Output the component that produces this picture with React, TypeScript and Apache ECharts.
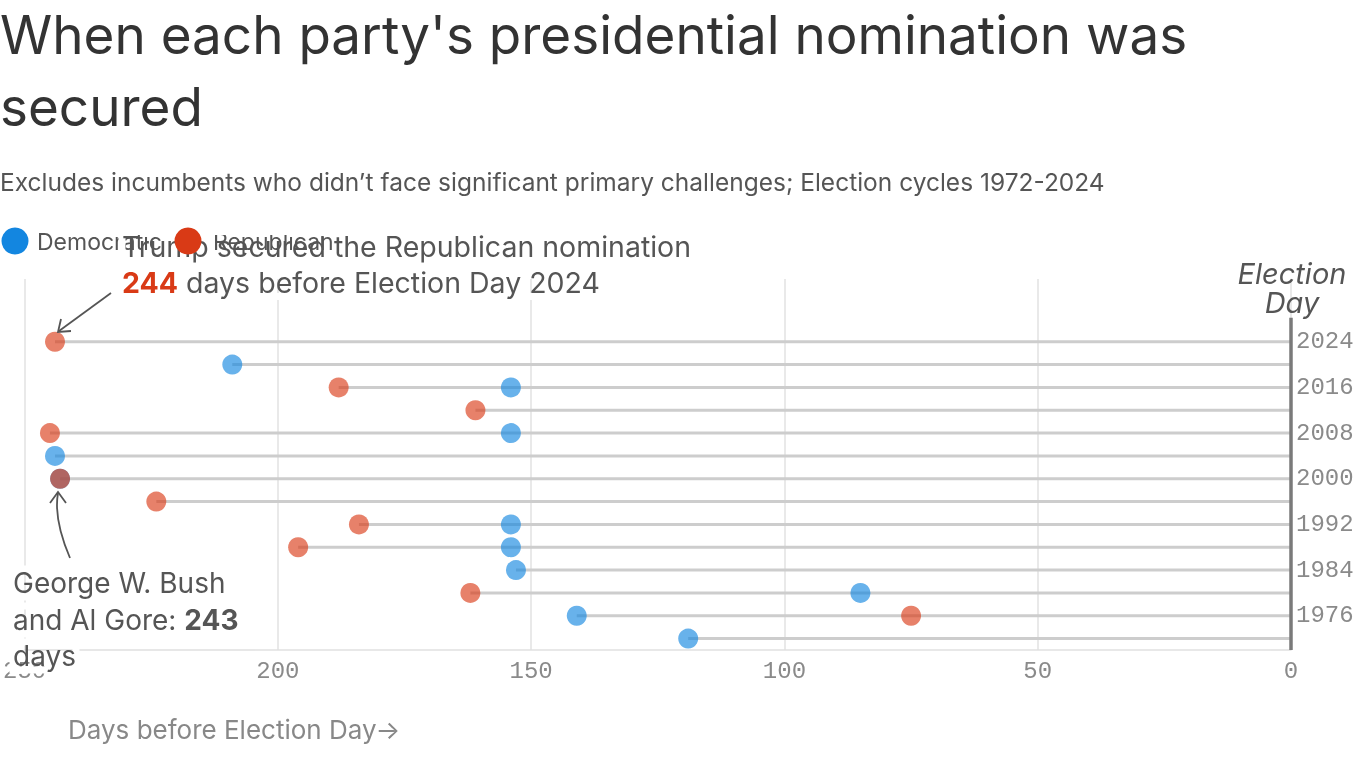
import React, { useEffect, useRef } from "react";
import * as echarts from "echarts";

const years = [2024, 2020, 2016, 2012, 2008, 2004, 2000, 1996, 1992, 1988, 1984, 1980, 1976, 1972];
const demDays: (number | null)[] = [null, 209, 154, null, 154, 244, 243, null, 154, 154, 153, 85, 141, 119];
const repDays: (number | null)[] = [244, null, 188, 161, 245, null, 243, 224, 184, 196, null, 162, 75, null];
const yLabelYears = [1976, 1984, 1992, 2000, 2008, 2016, 2024];
const electionDayLine = [[0, 1970, 2028.2]];

const SANS = "Inter, 'Noto Sans', sans-serif";
const MONO = "'Liberation Mono', 'DejaVu Sans Mono', monospace";
const DEM = "#1386e0";
const REP = "#d93a16";

export default function App() {
  const ref = useRef<HTMLDivElement>(null);
  useEffect(() => {
    if (!ref.current) return;
    const chart = echarts.init(ref.current, null, { renderer: "svg" });

    const rowData = years.map((y, i) => [Math.max(demDays[i] ?? 0, repDays[i] ?? 0), y]);
    const demData = years.map((y, i) => (demDays[i] != null ? [demDays[i], y] : null)).filter(Boolean);
    const repData = years.map((y, i) => (repDays[i] != null ? [repDays[i], y] : null)).filter(Boolean);

    const halo = { textBorderColor: "#fff", textBorderWidth: 7 };

    chart.setOption({
      animation: false,
      grid: { left: 23, right: 75, top: 279, bottom: 118, containLabel: false },
      xAxis: {
        type: "value",
        inverse: true,
        min: 0,
        max: 250,
        interval: 50,
        axisLine: { show: true, lineStyle: { color: "#e0e0e0", width: 1.5 } },
        axisTick: { show: false },
        splitLine: { show: true, lineStyle: { color: "#e2e2e2", width: 1.5 } },
        axisLabel: { color: "#8a8a8a", fontFamily: MONO, fontSize: 24, margin: 9 },
      },
      yAxis: {
        type: "value",
        position: "right",
        min: 1970,
        max: 2035,
        interval: 2,
        axisLine: { show: false },
        axisTick: { show: false },
        splitLine: { show: false },
        axisLabel: {
          color: "#8a8a8a",
          fontFamily: MONO,
          fontSize: 24,
          margin: 5,
          padding: [8, 0, 0, 0],
          formatter: (v: number) => (yLabelYears.includes(v) ? String(v) : ""),
        },
      },
      series: [
        {
          type: "custom",
          z: 1,
          data: rowData,
          renderItem: (params: any, api: any) => {
            const a = api.coord([api.value(0), api.value(1)]);
            const b = api.coord([0, api.value(1)]);
            return {
              type: "line",
              shape: { x1: a[0], y1: a[1], x2: b[0], y2: b[1] },
              style: { stroke: "#cdcdcd", lineWidth: 3 },
            };
          },
        },
        {
          type: "custom",
          z: 2,
          data: electionDayLine,
          renderItem: (params: any, api: any) => {
            const a = api.coord([api.value(0), api.value(1)]);
            const b = api.coord([api.value(0), api.value(2)]);
            return {
              type: "line",
              shape: { x1: a[0], y1: a[1], x2: b[0], y2: b[1] },
              style: { stroke: "#7a7a7a", lineWidth: 3.5 },
            };
          },
        },
        {
          type: "scatter",
          name: "Democratic",
          z: 3,
          symbolSize: 20,
          data: demData,
          itemStyle: { color: DEM, opacity: 0.64 },
        },
        {
          type: "scatter",
          name: "Republican",
          z: 4,
          symbolSize: 20,
          data: repData,
          itemStyle: { color: REP, opacity: 0.64 },
        },
      ],
      graphic: [
        {
          type: "text", x: 0, y: 35, z: 100,
          style: { text: "When each party's presidential nomination was", font: `53px ${SANS}`, fill: "#333", textVerticalAlign: "middle" },
        },
        {
          type: "text", x: 0, y: 107, z: 100,
          style: { text: "secured", font: `53px ${SANS}`, fill: "#333", textVerticalAlign: "middle" },
        },
        {
          type: "text", x: 0, y: 182, z: 100,
          style: { text: "Excludes incumbents who didn\u2019t face significant primary challenges; Election cycles 1972-2024", font: `24.5px ${SANS}`, fill: "#555", textVerticalAlign: "middle" },
        },
        { type: "circle", shape: { cx: 15, cy: 241, r: 13.5 }, style: { fill: DEM }, z: 90 },
        {
          type: "text", x: 37, y: 242, z: 90,
          style: { text: "Democratic", font: `23px ${SANS}`, fill: "#555", textVerticalAlign: "middle" },
        },
        {
          type: "text", x: 213, y: 242, z: 90,
          style: { text: "Republican", font: `23px ${SANS}`, fill: "#555", textVerticalAlign: "middle" },
        },
        {
          type: "text", x: 122, y: 246, z: 100,
          style: { text: "Trump secured the Republican nomination", font: `28.5px ${SANS}`, fill: "#555", textVerticalAlign: "middle", ...halo },
        },
        {
          type: "text", x: 122, y: 282, z: 100,
          style: {
            text: "{r|244} days before Election Day 2024",
            font: `28.5px ${SANS}`, fill: "#555", textVerticalAlign: "middle", ...halo,
            rich: { r: { font: `bold 28.5px ${SANS}`, fill: REP, textBorderColor: "#fff", textBorderWidth: 7 } },
          },
        },
        { type: "circle", shape: { cx: 188, cy: 241, r: 13.5 }, style: { fill: REP }, z: 110 },
        { type: "line", z: 100, shape: { x1: 111, y1: 293, x2: 59, y2: 331 }, style: { stroke: "#555", lineWidth: 1.8 } },
        { type: "polyline", z: 100, shape: { points: [[61, 319], [58, 332], [71, 331]] }, style: { stroke: "#555", lineWidth: 1.8, fill: null } },
        {
          type: "bezierCurve", z: 100,
          shape: { x1: 70, y1: 558, cpx1: 58, cpy1: 530, cpx2: 55, cpy2: 510, x2: 58, y2: 493 },
          style: { stroke: "#555", lineWidth: 1.8, fill: null },
        },
        { type: "polyline", z: 100, shape: { points: [[50, 503], [58, 492], [66, 503]] }, style: { stroke: "#555", lineWidth: 1.8, fill: null } },
        {
          type: "text", x: 13, y: 583, z: 100,
          style: { text: "George W. Bush", font: `28px ${SANS}`, fill: "#555", textVerticalAlign: "middle", ...halo },
        },
        {
          type: "text", x: 13, y: 620, z: 100,
          style: {
            text: "and Al Gore: {b|243}", font: `28px ${SANS}`, fill: "#555", textVerticalAlign: "middle", ...halo,
            rich: { b: { font: `bold 28px ${SANS}`, fill: "#555", textBorderColor: "#fff", textBorderWidth: 7 } },
          },
        },
        {
          type: "text", x: 13, y: 656, z: 100,
          style: { text: "days", font: `28px ${SANS}`, fill: "#555", textVerticalAlign: "middle", ...halo },
        },
        {
          type: "text", x: 1292, y: 273, z: 100,
          style: { text: "Election", font: `italic 29px ${SANS}`, fill: "#555", textAlign: "center", textVerticalAlign: "middle" },
        },
        {
          type: "text", x: 1292, y: 302, z: 100,
          style: { text: "Day", font: `italic 29px ${SANS}`, fill: "#555", textAlign: "center", textVerticalAlign: "middle" },
        },
        {
          type: "text", x: 68, y: 729, z: 100,
          style: { text: "Days before Election Day\u2192", font: `26px ${SANS}`, fill: "#888", textVerticalAlign: "middle" },
        },
      ],
    });
    return () => chart.dispose();
  }, []);
  return <div ref={ref} style={{ position: "fixed", left: 0, top: 0, width: 1366, height: 768 }} />;
}
